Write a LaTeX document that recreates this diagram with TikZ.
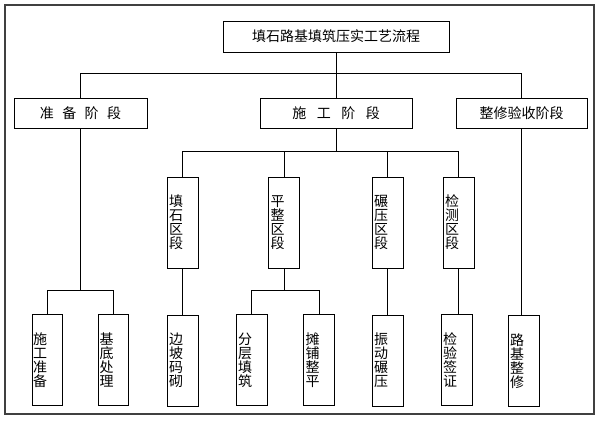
\documentclass[tikz,border=0pt]{standalone}
\usepackage{fontspec}
\newfontfamily\cjk{Noto Sans CJK SC}
\usetikzlibrary{positioning}

\begin{document}
\begin{tikzpicture}[
    x=1pt,
    y=-1pt,
    line width=1pt,
    font=\cjk\fontsize{14}{14}\selectfont,
    box/.style={draw, inner sep=0pt},
    phase/.style={box, minimum height=30pt},
    tallbox/.style={box, text width=27pt, inner xsep=2pt, align=left, minimum height=91pt},
]
    \useasboundingbox (0,0) rectangle (599,423);
    \draw[line width=2pt, black!75] (5,5) rectangle (594,414);

    % title and the three phases
    \node[box, minimum width=226pt, minimum height=31pt] (title)  at (336,36.5) {填石路基填筑压实工艺流程};
    \node[phase, minimum width=133pt] (prep)   at (80.5,113) {准\hspace{.6em}备\hspace{.6em}阶\hspace{.6em}段};
    \node[phase, minimum width=152pt] (build)  at (336,113)  {施\hspace{.75em}工\hspace{.75em}阶\hspace{.75em}段};
    \node[phase, minimum width=131pt] (finish) at (521.5,113) {整修验收阶段};

    % sections
    \node[tallbox] (fill)  at (182.5,222.5) {填\\石\\区\\段};
    \node[tallbox] (level) at (284,222.5)   {平\\整\\区\\段};
    \node[tallbox] (roll)  at (387.5,222.5) {碾\\压\\区\\段};
    \node[tallbox] (check) at (458.5,222.5) {检\\测\\区\\段};

    % steps
    \node[tallbox, text width=28pt, inner xsep=1pt] (ready) at (47,360)    {施\\工\\准\\备};
    \node[tallbox, text width=28pt, inner xsep=1pt] (base)  at (113.5,360) {基\\底\\处\\理};
    \node[tallbox, below=46pt of fill]  (slope)  {边\\坡\\码\\砌};
    \node[tallbox, below=46pt of roll]  (vibro)  {振\\动\\碾\\压};
    \node[tallbox] (layer)  at (251.5,360) {分\\层\\填\\筑};
    \node[tallbox] (spread) at (319,360)   {摊\\铺\\整\\平};
    \node[tallbox] (sign)   at (456.5,360) {检\\验\\签\\证};
    \node[tallbox] (trim)   at (523.5,361) {路\\基\\整\\修};

    \coordinate (top bus) at (0,73);
    \coordinate (mid bus) at (0,151);
    \coordinate (low bus) at (0,290);

    \draw (title.south) -- (title.south |- top bus);
    \draw (prep.north) |- (top bus -| finish.north) -- (finish.north);
    \draw (build.north) -- (build.north |- top bus);

    \draw (build.south) -- (build.south |- mid bus);
    \draw (fill.north) |- (mid bus -| check.north) -- (check.north);
    \draw (level.north) -- (level.north |- mid bus);
    \draw (roll.north) -- (roll.north |- mid bus);

    \draw (prep.south) -- (prep.south |- low bus);
    \draw (ready.north) |- (low bus -| base.north) -- (base.north);
    \draw (level.south) -- (level.south |- low bus);
    \draw (layer.north) |- (low bus -| spread.north) -- (spread.north);
    \draw (fill) -- (slope);
    \draw (roll) -- (vibro);
    \draw (check.south) -- (check.south |- sign.north);
    \draw (finish.south) -- (finish.south |- trim.north);
\end{tikzpicture}
\end{document}
